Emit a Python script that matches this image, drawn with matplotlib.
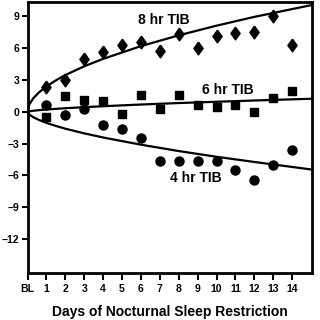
import numpy as np
import matplotlib
matplotlib.use("Agg")
import matplotlib.pyplot as plt

plt.rcParams["font.family"] = ["Liberation Sans", "DejaVu Sans"]
plt.rcParams["font.weight"] = "bold"

# days of restriction and change scores
days = [1, 2, 3, 4, 5, 6, 7, 8, 9, 10, 11, 12, 13, 14]
tib8 = [2.3, 3.0, 5.0, 5.6, 6.3, 6.55, 5.7, 7.3, 6.05, 7.2, 7.4, 7.55, 9.05, 6.35]
tib6 = [-0.45, 1.5, 1.1, 1.05, -0.25, 1.6, 0.25, 1.6, 0.6, 0.5, 0.65, 0.0, 1.35, 1.95]
tib4 = [0.6, -0.3, 0.3, -1.25, -1.6, -2.45, -4.6, -4.6, -4.6, -4.6, -5.45, -6.45, -5.0, -3.6]

# fitted curves
fit_x = [0, 0.1, 0.3, 0.6, 1, 1.5, 2, 3, 4, 6, 8, 10, 12, 15.1]
fit8 = [0, 0.71, 1.27, 1.83, 2.4, 2.97, 3.47, 4.3, 5.0, 6.2, 7.22, 8.13, 8.96, 10.1]
fit6 = [0, 0.05, 0.1, 0.16, 0.22, 0.28, 0.34, 0.44, 0.53, 0.69, 0.83, 0.95, 1.07, 1.24]
fit4 = [0, -0.26, -0.5, -0.76, -1.04, -1.33, -1.59, -2.03, -2.42, -3.1, -3.7, -4.24, -4.73, -5.46]

xtick_vals = list(range(15))
xtick_labels = ["BL"] + [str(d) for d in days]
ytick_vals = [-12, -9, -6, -3, 0, 3, 6, 9]

fig = plt.figure(figsize=(3.2, 3.2), dpi=100)
ax = fig.add_axes([0.086, 0.147, 0.888, 0.848])

tall_diamond = [(0, 1), (0.72, 0), (0, -1), (-0.72, 0), (0, 1)]

for fy in (fit8, fit6, fit4):
    ax.plot(fit_x, fy, color="black", lw=1.6, zorder=2)

ax.plot(days, tib8, ls="none", marker=tall_diamond, ms=9.2, color="black", zorder=3)
ax.plot(days, tib6, ls="none", marker="s", ms=6.2, color="black", zorder=3)
ax.plot(days, tib4, ls="none", marker="o", ms=6.5, color="black", zorder=3)

ax.text(7.2, 8.65, "8 hr TIB", ha="center", va="center", fontsize=10, fontweight="bold")
ax.text(10.6, 2.05, "6 hr TIB", ha="center", va="center", fontsize=10, fontweight="bold")
ax.text(8.9, -6.2, "4 hr TIB", ha="center", va="center", fontsize=10, fontweight="bold")

ax.set_xlim(0, 15.03)
ax.set_ylim(-15.2, 10.4)
ax.set_xticks(xtick_vals)
ax.set_xticklabels(xtick_labels)
ax.set_yticks(ytick_vals)
ax.tick_params(axis="both", direction="out", width=1.5, labelsize=7.5)
ax.tick_params(axis="x", length=5, pad=3)
ax.tick_params(axis="y", length=4, pad=2)
for lab in ax.get_xticklabels() + ax.get_yticklabels():
    lab.set_fontweight("bold")
for sp in ax.spines.values():
    sp.set_linewidth(2.0)

ax.set_xlabel("Days of Nocturnal Sleep Restriction", fontsize=10, fontweight="bold", labelpad=8)

fig.savefig("out.png", dpi=100)
plt.close(fig)
